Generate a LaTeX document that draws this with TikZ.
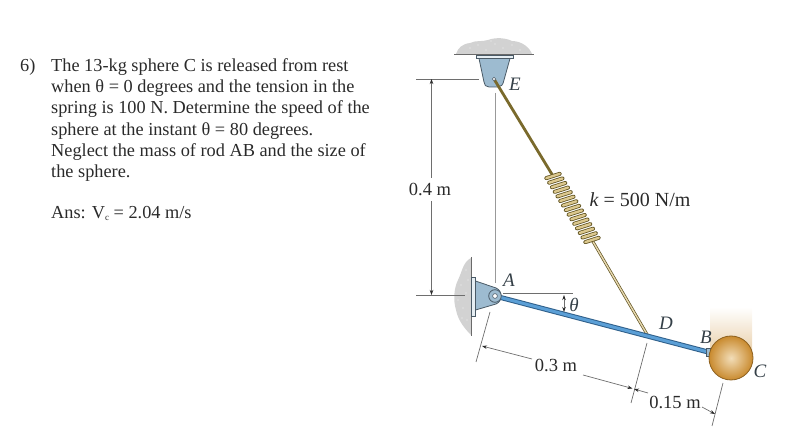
\documentclass[tikz,border=0pt]{standalone}
\usepackage{fontspec}
\setmainfont{Liberation Serif}
\usetikzlibrary{calc,arrows.meta}
\definecolor{ink}{HTML}{2A2A2A}
\definecolor{dim}{HTML}{6E6E6E}
\definecolor{rock}{HTML}{D2D2D2}
\definecolor{steel}{HTML}{9DBBD0}
\definecolor{steeldark}{HTML}{4A5A66}
\definecolor{rodblue}{HTML}{5B9FD6}
\definecolor{roddark}{HTML}{2F5F8A}
\definecolor{olive}{HTML}{7A6A2C}
\definecolor{tan}{HTML}{DCC88E}
\definecolor{copper}{HTML}{C98A2E}
\definecolor{ballmid}{HTML}{F2DDB8}
\tikzset{
  para/.style={anchor=north west,inner sep=0pt,align=left,text=ink,font=\fontsize{18.3}{21.2}\selectfont},
  lab/.style={inner sep=0pt,text=ink,font=\fontsize{18.5}{20}\selectfont},
  klab/.style={inner sep=0pt,text=ink,font=\fontsize{20}{22}\selectfont},
  ilab/.style={inner sep=0pt,text=steeldark!70!black,font=\fontsize{19}{20}\selectfont\itshape},
  dimline/.style={draw=dim,line width=.7pt},
  dimarrow/.style={dimline,-{Stealth[length=5pt,width=3.5pt,color=ink]}},
  plate/.style={draw=steeldark,line width=.8pt,fill=steel},
  lightplate/.style={draw=steeldark,line width=.8pt,fill=steel!25!white},
  coil/.style={double=tan,double distance=2.4pt,line width=.8pt,draw=olive!80!black,line cap=round},
  speck/.style={fill=white,opacity=.7}
}
\begin{document}
\begin{tikzpicture}[x=1pt,y=-1pt]
\useasboundingbox (0,0) rectangle (796,443);
% problem text
\node[para] (num) at (20,58.5) {6)};
\node[para] (prob) at (51,58.5) {The 13-kg sphere C is released from rest\\
when θ = 0 degrees and the tension in the\\
spring is 100 N. Determine the speed of the\\
sphere at the instant θ = 80 degrees.\\
Neglect the mass of rod AB and the size of\\
the sphere.};
\node[para] (ans) at (51,206.5) {Ans: V\raisebox{-2pt}{\fontsize{9}{9}\selectfont c} = 2.04 m/s};
% key points
\coordinate (E) at (494,79);
\coordinate (A) at (495,296);
\coordinate (D) at (648,336);
\coordinate (B) at (708,352);
\coordinate (C) at (731,358);
\coordinate (S1) at (553,176);
\coordinate (S2) at (592,240);
\coordinate (S3) at ($(S1)!3!(S2)$);
% ceiling
\fill[rock] (456,54) .. controls (458,48) and (462,44) .. (470,43) .. controls (476,40) and (482,42) .. (488,40) .. controls (496,37) and (506,38) .. (512,41) .. controls (522,41) and (530,48) .. (532,54) -- cycle;
\foreach \p in {(470,48),(478,45),(486,50),(495,44),(503,48),(512,45),(520,50),(491,41)}
  \fill[speck] \p circle (.6pt);
\draw[draw=ink!70,line width=.8pt] (454,54.5) -- (534,54.5);
\draw[lightplate] (476,55) rectangle (513,58.5);
\draw[plate] (479,58.5) -- (510,58.5) -- (504,80) .. controls (503,85) and (501,87) .. (498,87) -- (489,87) .. controls (486,87) and (484,85) .. (484,82) -- cycle;
% wall
\fill[rock] (471,258) .. controls (463,262) and (462,272) .. (458,280) .. controls (454,288) and (453,300) .. (456,310) .. controls (458,320) and (464,328) .. (471,335) -- cycle;
\foreach \p in {(466,270),(461,285),(466,293),(458,300),(463,308),(467,320),(462,318),(468,280)}
  \fill[speck] \p circle (.6pt);
\draw[draw=ink!70,line width=.8pt] (471,257) -- (471,336);
\draw[lightplate] (471,277) rectangle (475.5,316);
\draw[plate] (475.5,281) -- (496,288) .. controls (503,291) and (503,301) .. (496,304) -- (475.5,310) -- cycle;
% dimension 0.4 m
\coordinate (e1) at (416,79);
\coordinate (e2) at (479,79);
\coordinate (e3) at (416,295);
\coordinate (e4) at (465,295);
\coordinate (v1) at (431.5,79);
\coordinate (v2) at (431.5,178);
\coordinate (v3) at (431.5,201);
\coordinate (v4) at (431.5,295);
\draw[dimline] (e1) -- (e2);
\draw[dimline] (e3) -- (e4);
\draw[dimarrow] (v2) -- (v1);
\draw[dimarrow] (v3) -- (v4);
\coordinate (x1) at (495,93);
\coordinate (x2) at (495,283);
\draw[dimline,draw=dim!70] (x1) -- (x2);
\node[lab] (d04) at (430,189) {0.4 m};
% spring
\draw[olive,line width=2.8pt] (E) -- (S1);
\draw[olive!80!black,line width=2.8pt] (S2) -- (D);
\draw[tan!70!white,line width=1.4pt] (S2) -- (D);
\foreach \t in {0,0.0714,...,1.01}{
  \draw[coil] ($($(S1)!\t+0.022!(S2)$)!6.8pt!90:(S3)$) -- ($($(S1)!\t-0.022!(S2)$)!6.8pt!-90:(S3)$);
}
\fill[white] (E) circle (1.8pt);
\draw[steeldark,line width=.5pt] (E) circle (1.8pt);
\node[ilab] (lE) at (515,84) {E};
\node[klab] (lk) at (640,199.5) {\textit{k} = 500 N/m};
% rod
\shade[top color=white,bottom color=copper!45!white] (710,307) rectangle (752,358);
\draw[roddark,line width=5pt] (A) -- (B);
\draw[rodblue,line width=3pt] (A) -- (B);
\draw[plate] (A) circle (6.3pt);
\draw[steeldark,fill=white,line width=.6pt] (A) circle (2.4pt);
\draw[plate] (706,348) rectangle (710,356);
\shade[inner color=ballmid,outer color=copper,draw=copper!70!black,line width=.8pt] (C) circle (22);
\node[ilab] (lA) at (509,280) {A};
\node[ilab] (lD) at (666,323) {D};
\node[ilab] (lB) at (706,337) {B};
\node[ilab] (lC) at (760,371) {C};
% angle
\coordinate (h1) at (503,293);
\coordinate (h2) at (573,293);
\coordinate (t1) at (564,295);
\coordinate (t2) at (564,312);
\coordinate (tm) at (564,304);
\draw[dimline] (h1) -- (h2);
\draw[dimarrow] (tm) -- (t1);
\draw[dimarrow] (tm) -- (t2);
\node[ilab] (lt) at (574,305) {θ};
% dimension 0.3 m and 0.15 m
\coordinate (a1) at (490,312);
\coordinate (a2) at (476,362);
\coordinate (m1) at (647,343);
\coordinate (m2) at (631,403);
\coordinate (c1) at (723,383);
\coordinate (c2) at (712,426);
\draw[dimline] (a1) -- (a2);
\draw[dimline] (m1) -- (m2);
\draw[dimline] (c1) -- (c2);
\node[lab] (d03) at (556,365) {0.3 m};
\node[lab] (d15) at (675,402) {0.15 m};
\coordinate (p1) at (532,359);
\coordinate (p2) at (482,346);
\coordinate (p3) at (583,375);
\coordinate (p4) at (632.5,388.5);
\coordinate (p5) at (648,393);
\coordinate (p6) at (634,389);
\coordinate (p7) at (702,407);
\coordinate (p8) at (715,414);
\draw[dimarrow] (p1) -- (p2);
\draw[dimarrow] (p3) -- (p4);
\draw[dimarrow] (p5) -- (p6);
\draw[dimarrow] (p7) -- (p8);
\end{tikzpicture}
\end{document}
